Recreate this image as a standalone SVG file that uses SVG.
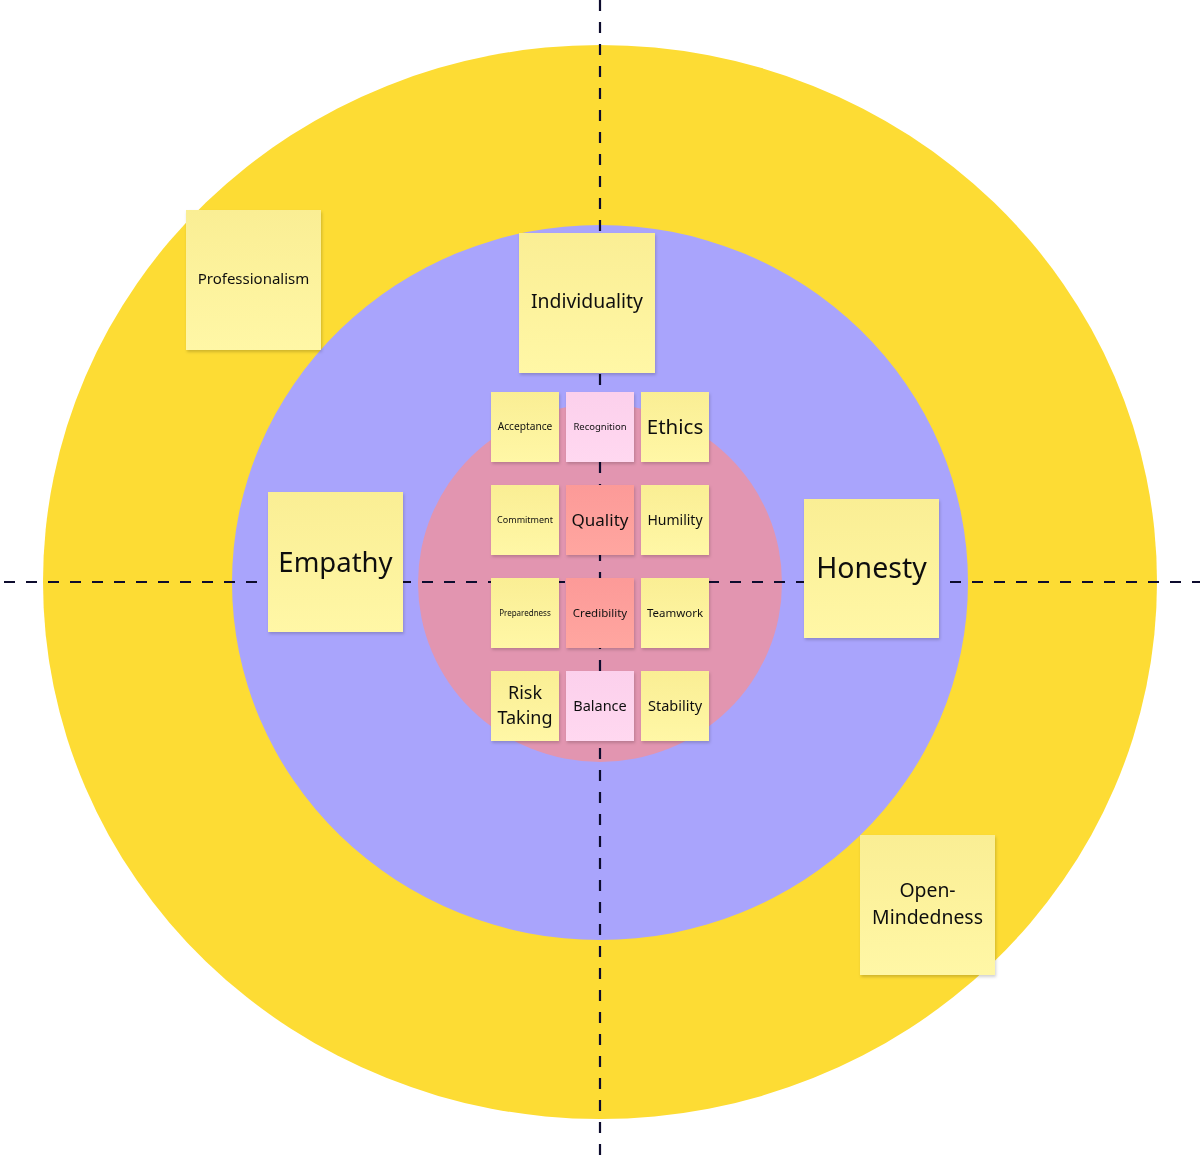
<svg xmlns="http://www.w3.org/2000/svg" width="1200" height="1165" viewBox="0 0 1200 1165">
<style>
.t{font-family:"Noto Sans","Open Sans","DejaVu Sans",sans-serif;fill:#111111;text-anchor:middle;dominant-baseline:central}
.y{fill:url(#gy)}
.p{fill:url(#gp)}
.s{fill:url(#gs)}
.dash{stroke:#0d0c2e;stroke-width:2.2;fill:none;stroke-dasharray:11 11}
</style>
<defs>
<linearGradient id="gy" x1="0" y1="0" x2="0" y2="1"><stop offset="0" stop-color="#FAEE94"/><stop offset="1" stop-color="#FFF7A6"/></linearGradient>
<linearGradient id="gp" x1="0" y1="0" x2="0" y2="1"><stop offset="0" stop-color="#FCD0EC"/><stop offset="1" stop-color="#FFD8F0"/></linearGradient>
<linearGradient id="gs" x1="0" y1="0" x2="0" y2="1"><stop offset="0" stop-color="#FC9A98"/><stop offset="1" stop-color="#FFA6A0"/></linearGradient>
<filter id="sh" x="-10%" y="-10%" width="125%" height="125%"><feDropShadow dx="1" dy="2" stdDeviation="1.5" flood-color="#000" flood-opacity="0.18"/></filter>
</defs>
<rect width="1200" height="1165" fill="#ffffff"/>
<g id="rings">
<ellipse cx="600" cy="582" rx="557" ry="537" fill="#FDDC34"/>
<ellipse cx="600" cy="582.5" rx="368" ry="357.5" fill="#A9A4FC"/>
<ellipse cx="600" cy="583" rx="182" ry="179" fill="#E295B0"/>
</g>
<g id="connectors">
<line class="dash" x1="0" y1="582" x2="1200" y2="582" stroke-dashoffset="18"/>
<line class="dash" x1="600" y1="0" x2="600" y2="1165"/>
</g>
<g id="professionalism" filter="url(#sh)"><rect class="y" x="186" y="210" width="135" height="140"/><text class="t" x="253.5" y="278" font-size="15">Professionalism</text></g>
<g id="individuality" filter="url(#sh)"><rect class="y" x="519" y="233" width="136" height="140"/><text class="t" x="587" y="300" font-size="19.4">Individuality</text></g>
<g id="empathy" filter="url(#sh)"><rect class="y" x="268" y="492" width="135" height="140"/><text class="t" x="335.5" y="561" font-size="27.5">Empathy</text></g>
<g id="honesty" filter="url(#sh)"><rect class="y" x="804" y="499" width="135" height="139"/><text class="t" x="871.5" y="567" font-size="28.5">Honesty</text></g>
<g id="open-mindedness" filter="url(#sh)"><rect class="y" x="860" y="835" width="135" height="140"/><text class="t" x="927.5" y="889" font-size="19.4">Open-</text><text class="t" x="927.5" y="916" font-size="19.4">Mindedness</text></g>
<g id="acceptance" filter="url(#sh)"><rect class="y" x="491" y="392" width="68" height="70"/><text class="t" x="525" y="426" font-size="10.2">Acceptance</text></g>
<g id="recognition" filter="url(#sh)"><rect class="p" x="566" y="392" width="68" height="70"/><text class="t" x="600" y="426" font-size="9.5">Recognition</text></g>
<g id="ethics" filter="url(#sh)"><rect class="y" x="641" y="392" width="68" height="70"/><text class="t" x="675" y="426" font-size="20.5">Ethics</text></g>
<g id="commitment" filter="url(#sh)"><rect class="y" x="491" y="485" width="68" height="70"/><text class="t" x="525" y="519" font-size="9">Commitment</text></g>
<g id="quality" filter="url(#sh)"><rect class="s" x="566" y="485" width="68" height="70"/><text class="t" x="600" y="519" font-size="17">Quality</text></g>
<g id="humility" filter="url(#sh)"><rect class="y" x="641" y="485" width="68" height="70"/><text class="t" x="675" y="519" font-size="14">Humility</text></g>
<g id="preparedness" filter="url(#sh)"><rect class="y" x="491" y="578" width="68" height="70"/><text class="t" x="525" y="612" font-size="8">Preparedness</text></g>
<g id="credibility" filter="url(#sh)"><rect class="s" x="566" y="578" width="68" height="70"/><text class="t" x="600" y="612" font-size="11.5">Credibility</text></g>
<g id="teamwork" filter="url(#sh)"><rect class="y" x="641" y="578" width="68" height="70"/><text class="t" x="675" y="612" font-size="11.5">Teamwork</text></g>
<g id="risk-taking" filter="url(#sh)"><rect class="y" x="491" y="671" width="68" height="70"/><text class="t" x="525" y="692" font-size="18">Risk</text><text class="t" x="525" y="717" font-size="18">Taking</text></g>
<g id="balance" filter="url(#sh)"><rect class="p" x="566" y="671" width="68" height="70"/><text class="t" x="600" y="705" font-size="14.5">Balance</text></g>
<g id="stability" filter="url(#sh)"><rect class="y" x="641" y="671" width="68" height="70"/><text class="t" x="675" y="705" font-size="14.5">Stability</text></g>
</svg>
